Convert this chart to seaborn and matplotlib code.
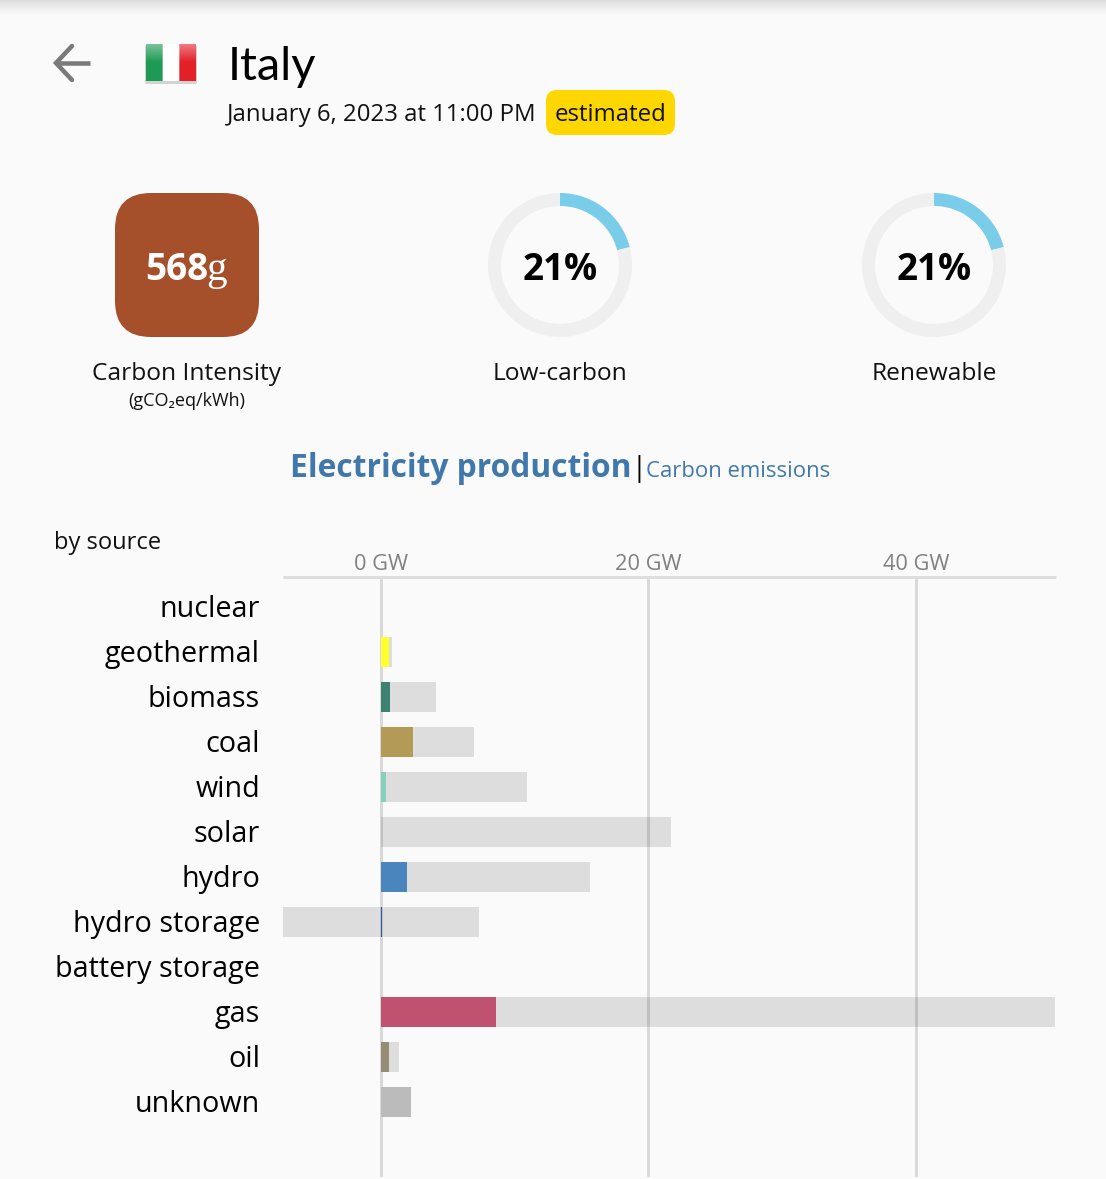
import numpy as np
import pandas as pd
import seaborn as sns
import matplotlib.pyplot as plt
from matplotlib.patches import FancyBboxPatch
from matplotlib.transforms import ScaledTranslation

# Data
sources = ['nuclear', 'geothermal', 'biomass', 'coal', 'wind', 'solar', 'hydro',
           'hydro storage', 'battery storage', 'gas', 'oil', 'unknown']
production = [np.nan, 0.62, 0.67, 2.39, 0.37, 0.0, 1.94, 0.06, np.nan, 8.6, 0.6, 2.24]
capacity = [np.nan, 0.82, 4.11, 6.96, 10.92, 21.7, 15.63, 7.33, np.nan, 50.4, 1.35, np.nan]
capacity_negative = [np.nan, np.nan, np.nan, np.nan, np.nan, np.nan, np.nan, -7.33, np.nan, np.nan, np.nan, np.nan]
source_colors = ['#ae2b7f', '#ffff2b', '#3d8270', '#b39a56', '#85d1bd', '#f27406', '#4a86bd',
                 '#2a5fae', '#b76fd4', '#c1526f', '#968d76', '#bbbbbb']
axis_ticks = [0, 20, 40]
axis_labels = ['0 GW', '20 GW', '40 GW']
low_carbon_share = 21
renewable_share = 21
carbon_intensity = 568

BG = '#fafafa'
W, H = 1106, 1179

sns.set_theme(style='white')
plt.rcParams['font.family'] = ['Open Sans', 'DejaVu Sans']
plt.rcParams['figure.facecolor'] = BG
plt.rcParams['axes.facecolor'] = BG


def px(size):
    # font size given in screen pixels
    return size * 0.72


df = pd.DataFrame({'source': sources, 'production': production, 'capacity': capacity,
                   'capacity_negative': capacity_negative})

fig = plt.figure(figsize=(W / 100, H / 100), dpi=100)

# Main bar chart
ax = fig.add_axes([283 / W, 1 - 1177 / H, (1056 - 283) / W, (1177 - 577) / H])
sns.barplot(data=df, x='capacity', y='source', order=sources, color='black', alpha=0.115,
            saturation=1, width=30 / 45, ax=ax, zorder=2)
sns.barplot(data=df, x='capacity_negative', y='source', order=sources, color='black', alpha=0.115,
            saturation=1, width=30 / 45, ax=ax, zorder=2)
sns.barplot(data=df, x='production', y='source', order=sources, hue='source', hue_order=sources,
            palette=source_colors, saturation=1, width=30 / 45, legend=False, dodge=False, ax=ax, zorder=3)
for patch in ax.patches:
    patch.set_linewidth(0)
ax.set_xlim((283 - 381) / 13.37, (1056 - 381) / 13.37)
ax.set_ylim((1177 - 607) / 45, (577 - 607) / 45)
ax.set_xlabel('')
ax.set_ylabel('')
ax.xaxis.tick_top()
ax.set_xticks(axis_ticks)
ax.set_xticklabels(axis_labels, fontsize=px(21.8), color='#808080')
ax.tick_params(axis='x', length=0, pad=1.8)
ax.tick_params(axis='y', length=0, pad=px(23.5), labelsize=px(28.7), labelcolor='black')
# labels sit a pixel up and to the right
nudge = ScaledTranslation(0.5 / 100, 1 / 100, fig.dpi_scale_trans)
for label in ax.get_yticklabels():
    label.set_transform(label.get_transform() + nudge)
ax.set_axisbelow(True)
ax.grid(axis='x', color='#d9d9d9', linewidth=px(3))
ax.grid(axis='y', visible=False)
for side in ['left', 'right', 'bottom']:
    ax.spines[side].set_visible(False)
ax.spines['top'].set_color('#dddddd')
ax.spines['top'].set_linewidth(px(3))
ax.spines['top'].set_capstyle('butt')

# Overlay in pixel coordinates for the page header
page = fig.add_axes([0, 0, 1, 1], zorder=-1)
page.set_xlim(0, W)
page.set_ylim(H, 0)
page.axis('off')

# top shadow
fade = np.linspace(1, 0, 18)[:, None] ** 1.6
shadow = np.zeros((18, 1, 4))
shadow[..., 3] = fade * 0.12
page.imshow(shadow, extent=(0, W, 18, 0), aspect='auto', interpolation='bilinear')

# back arrow
page.plot([56, 90], [63, 63], color='#7a7a7a', lw=px(4.5), solid_capstyle='butt')
page.plot([72, 56, 72], [46, 63, 80], color='#7a7a7a', lw=px(4.5), solid_joinstyle='miter')

# flag
stripes = np.array([[31, 154, 85], [255, 255, 255], [227, 32, 40]]) / 255
flag = np.ones((38, 48, 3))
for row in range(38):
    lighten = 0.4 * (1 - row / 18) if row < 18 else 0
    for col in range(48):
        flag[row, col] = stripes[col // 16] + (1 - stripes[col // 16]) * lighten
page.add_patch(FancyBboxPatch((146, 46), 50, 37, boxstyle='round,pad=1,rounding_size=2',
                              fc='#999999', ec='none', alpha=0.4, zorder=1))
page.imshow(flag, extent=(146, 196, 81, 44), aspect='auto', interpolation='bilinear', zorder=2)
page.set_xlim(0, W)
page.set_ylim(H, 0)

# header text
page.text(228, 80, 'Italy', fontsize=px(47), family='Lato', color='black', va='baseline')
page.text(227, 121, 'January 6, 2023 at 11:00 PM', fontsize=px(24), color='#111111', va='baseline')
page.add_patch(FancyBboxPatch((556, 100), 109, 25, boxstyle='round,pad=10,rounding_size=11',
                              fc='#ffd700', ec='none'))
page.text(610.5, 121, 'estimated', fontsize=px(24), color='#111111', ha='center', va='baseline')

# carbon intensity box
page.add_patch(FancyBboxPatch((151, 229), 72, 72, boxstyle='round,pad=36,rounding_size=36',
                              fc='#a54f2b', ec='none'))
page.text(145, 280, str(carbon_intensity), fontsize=px(37), weight='bold', color='white', va='baseline')
page.text(206.5, 280, 'g', fontsize=px(41), family='Liberation Serif', color='white', va='baseline')
page.text(187, 380, 'Carbon Intensity', fontsize=px(24.5), color='#111111', ha='center', va='baseline')
page.text(187, 406, '(gCO₂eq/kWh)', fontsize=px(18), color='#111111', ha='center', va='baseline')

# the two rings
for cx, share, label in [(560, low_carbon_share, 'Low-carbon'), (934, renewable_share, 'Renewable')]:
    ring = fig.add_axes([(cx - 72) / W, 1 - 337 / H, 144 / W, 144 / H])
    ring.pie([share, 100 - share], colors=['#7acde9', '#efefef'], startangle=90, counterclock=False,
             radius=1, wedgeprops={'width': 13 / 72, 'linewidth': 0})
    ring.set_xlim(-1, 1)
    ring.set_ylim(-1, 1)
    page.text(cx, 280, f'{share}%', fontsize=px(36.7), weight='bold', color='black', ha='center', va='baseline')
    page.text(cx, 380, label, fontsize=px(24.5), color='#111111', ha='center', va='baseline')

# tab titles
page.text(290.5, 477, 'Electricity production', fontsize=px(31.8), weight='bold', color='#4178ac', va='baseline')
page.text(631.5, 476, '|', fontsize=px(27), color='black', va='baseline')
page.text(646, 477, 'Carbon emissions', fontsize=px(22.1), color='#4178ac', va='baseline')
page.text(54, 549, 'by source', fontsize=px(23.8), color='#111111', va='baseline')

fig.savefig('out.png', dpi=100, facecolor=BG)
